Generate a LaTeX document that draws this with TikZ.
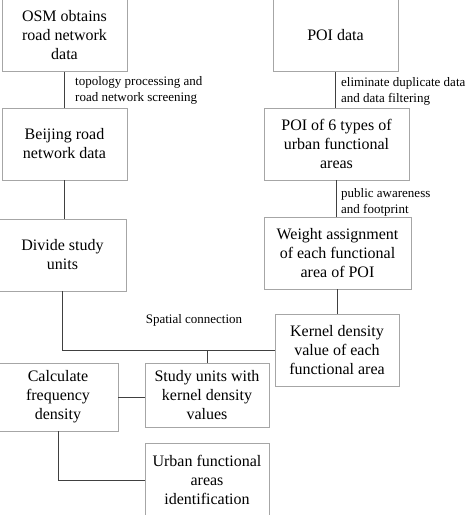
\documentclass[tikz,border=0pt]{standalone}
\usepackage{fontspec}
\setmainfont{Liberation Serif}
\begin{document}
\begin{tikzpicture}[x=1pt,y=-1pt,
  box/.style={draw=black!35, line width=0.9pt, fill=white, inner sep=0pt, align=center,
    font=\fontsize{16}{19}\selectfont},
  lbl/.style={inner sep=0pt, font=\fontsize{13}{16}\selectfont},
  conn/.style={draw=black!75, line width=1pt}]
\useasboundingbox (0,0) rectangle (474,515);
\clip (0,0) rectangle (474,515);
% boxes: (left+right)/2, (top+bottom)/2
\node[box, minimum width=125pt, minimum height=73pt] (A) at (64.5,35) {OSM obtains\\road network\\data};
\node[box, minimum width=125pt, minimum height=72pt] (B) at (64.5,144) {Beijing road\\network data};
\node[box, minimum width=127pt, minimum height=72pt] (C) at (62.5,255) {Divide study\\units};
\node[box, minimum width=125pt, minimum height=73pt] (P) at (335.5,35) {POI data};
\node[box, minimum width=145pt, minimum height=72pt] (D) at (336.5,144) {POI of 6 types of\\urban functional\\areas};
\node[box, minimum width=147pt, minimum height=72pt] (E) at (337.5,253) {Weight assignment\\of each functional\\area of POI};
\node[box, minimum width=124pt, minimum height=72pt] (F) at (337,350) {Kernel density\\value of each\\functional area};
\node[box, minimum width=124pt, minimum height=64pt] (G) at (207,395) {Study units with\\kernel density\\values};
\node[box, minimum width=120pt, minimum height=68pt] (H) at (58,397) {Calculate\\frequency\\density};
\node[box, minimum width=124pt, minimum height=74pt] (I) at (207,480) {Urban functional\\areas\\identification};
% connectors
\draw[conn] (A.south) -- (A.south |- B.north);
\draw[conn] (B.south) -- (B.south |- C.north);
\draw[conn] (P.south) -- (P.south |- D.north);
\draw[conn] (D.south) -- (D.south |- E.north);
\draw[conn] (E.south) -- (E.south |- F.north);
\draw[conn] (C.south) |- (F.west);
\coordinate (J) at (G.north |- F.west);
\draw[conn] (J) -- (G.north);
\draw[conn] (H.east) -- (H.east -| G.west);
\draw[conn] (H.south) |- (I.west);
% labels
\node[lbl, anchor=west, align=left] (L1) at (75,90) {topology processing and\\road network screening};
\node[lbl, anchor=west, align=left] (L2) at (341,91.5) {eliminate duplicate data\\and data filtering};
\node[lbl, anchor=west, align=left] (L3) at (341,202) {public awareness\\and footprint};
\node[lbl] (L4) at (194,320) {Spatial connection};
\end{tikzpicture}
\end{document}
